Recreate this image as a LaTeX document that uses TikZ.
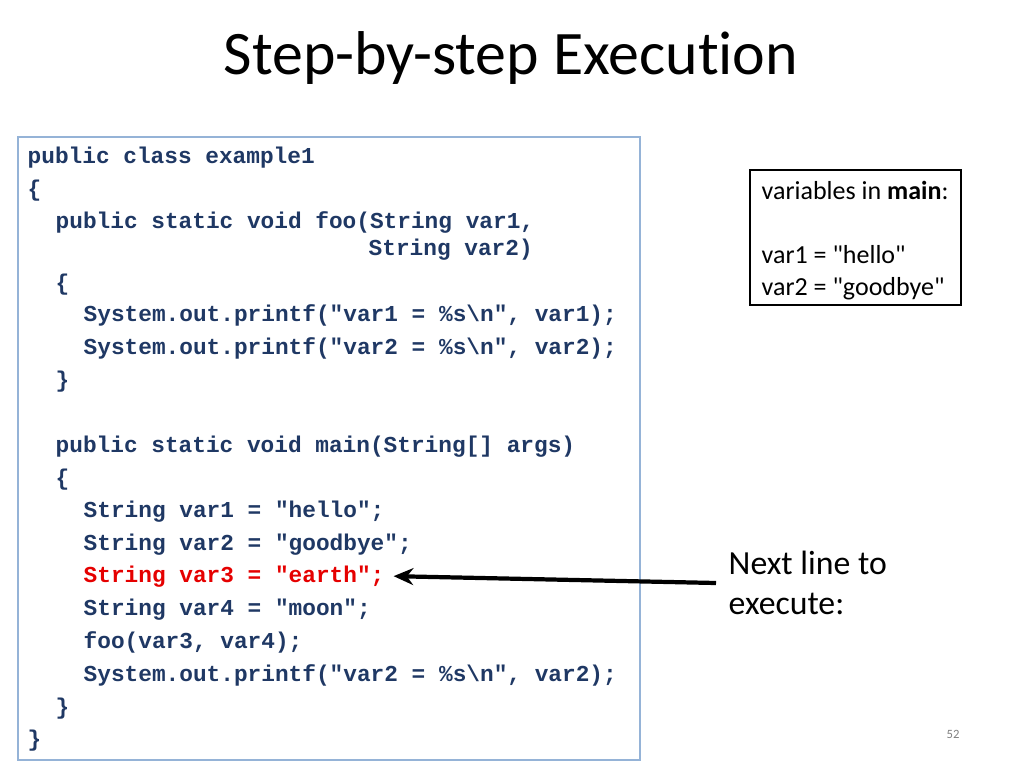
\documentclass[tikz,border=0pt]{standalone}
\usepackage{fontspec}
\setmainfont{Carlito}[Ligatures=NoCommon]
\newfontfamily\codefont{Liberation Mono}
\usetikzlibrary{arrows.meta}
\definecolor{codeblue}{HTML}{1F3864}
\definecolor{boxblue}{HTML}{95B3D7}
\begin{document}
\begin{tikzpicture}[x=0.025cm,y=-0.025cm,
                    line width=1pt]
    \tikzstyle{code}=[anchor=base west,inner sep=0pt,font=\codefont\bfseries\fontsize{16.2}{18}\selectfont,text=codeblue]
    \tikzstyle{hot}=[code, text=red!90!black]
    \tikzstyle{plain}=[anchor=base west,inner sep=0pt,font=\fontsize{18.5}{20}\selectfont]
    \tikzstyle{pointer}=[anchor=base west,inner sep=0pt,font=\fontsize{24}{28}\selectfont]

    \useasboundingbox (0,0) rectangle (1024,768);
    \node (title) at (511,58) {\fontsize{44}{50}\selectfont Step-by-step Execution};

    % code listing
    \draw[boxblue, line width=1.2pt] (18,137) rectangle (640,760);
    \node[code] (c1) at (27,163) {public class example1};
    \node[code] (c2) at (27,196) {\{};
    \node[code] (c3) at (55,228) {public static void foo(String var1,};
    \node[code] (c4) at (368,255) {String var2)};
    \node[code] (c5) at (55,290) {\{};
    \node[code] (c6) at (83,321) {System.out.printf("var1 = \%s\textbackslash n", var1);};
    \node[code] (c7) at (83,354) {System.out.printf("var2 = \%s\textbackslash n", var2);};
    \node[code] (c8) at (55,387) {\}};
    \node[code] (c9) at (55,452) {public static void main(String[] args)};
    \node[code] (c10) at (55,485) {\{};
    \node[code] (c11) at (83,517) {String var1 = "hello";};
    \node[code] (c12) at (83,550) {String var2 = "goodbye";};
    \node[hot]  (c13) at (83,582) {String var3 = "earth";};
    \node[code] (c14) at (83,615) {String var4 = "moon";};
    \node[code] (c15) at (83,648) {foo(var3, var4);};
    \node[code] (c16) at (83,681) {System.out.printf("var2 = \%s\textbackslash n", var2);};
    \node[code] (c17) at (55,714) {\}};
    \node[code] (c18) at (27,746) {\}};

    % variables box
    \draw (750,170) rectangle (961,305);
    \node[plain] (v1) at (761,199) {variables in \textbf{main}:};
    \node[plain] (v2) at (761,263) {var1 = \textquotedbl hello\textquotedbl};
    \node[plain] (v3) at (761,295) {var2 = \textquotedbl goodbye\textquotedbl};

    % pointer
    \node[pointer] (next1) at (728,574) {Next line to};
    \node[pointer] (next2) at (728,614) {execute:};
    \coordinate (tail) at (716,583);
    \draw[line width=3pt,-{Stealth[length=14pt,width=12pt]}] (tail) -- ([xshift=6pt]c13.east);

    \node[text=gray,font=\fontsize{9}{10}\selectfont] (page) at (953,734) {52};
\end{tikzpicture}
\end{document}
